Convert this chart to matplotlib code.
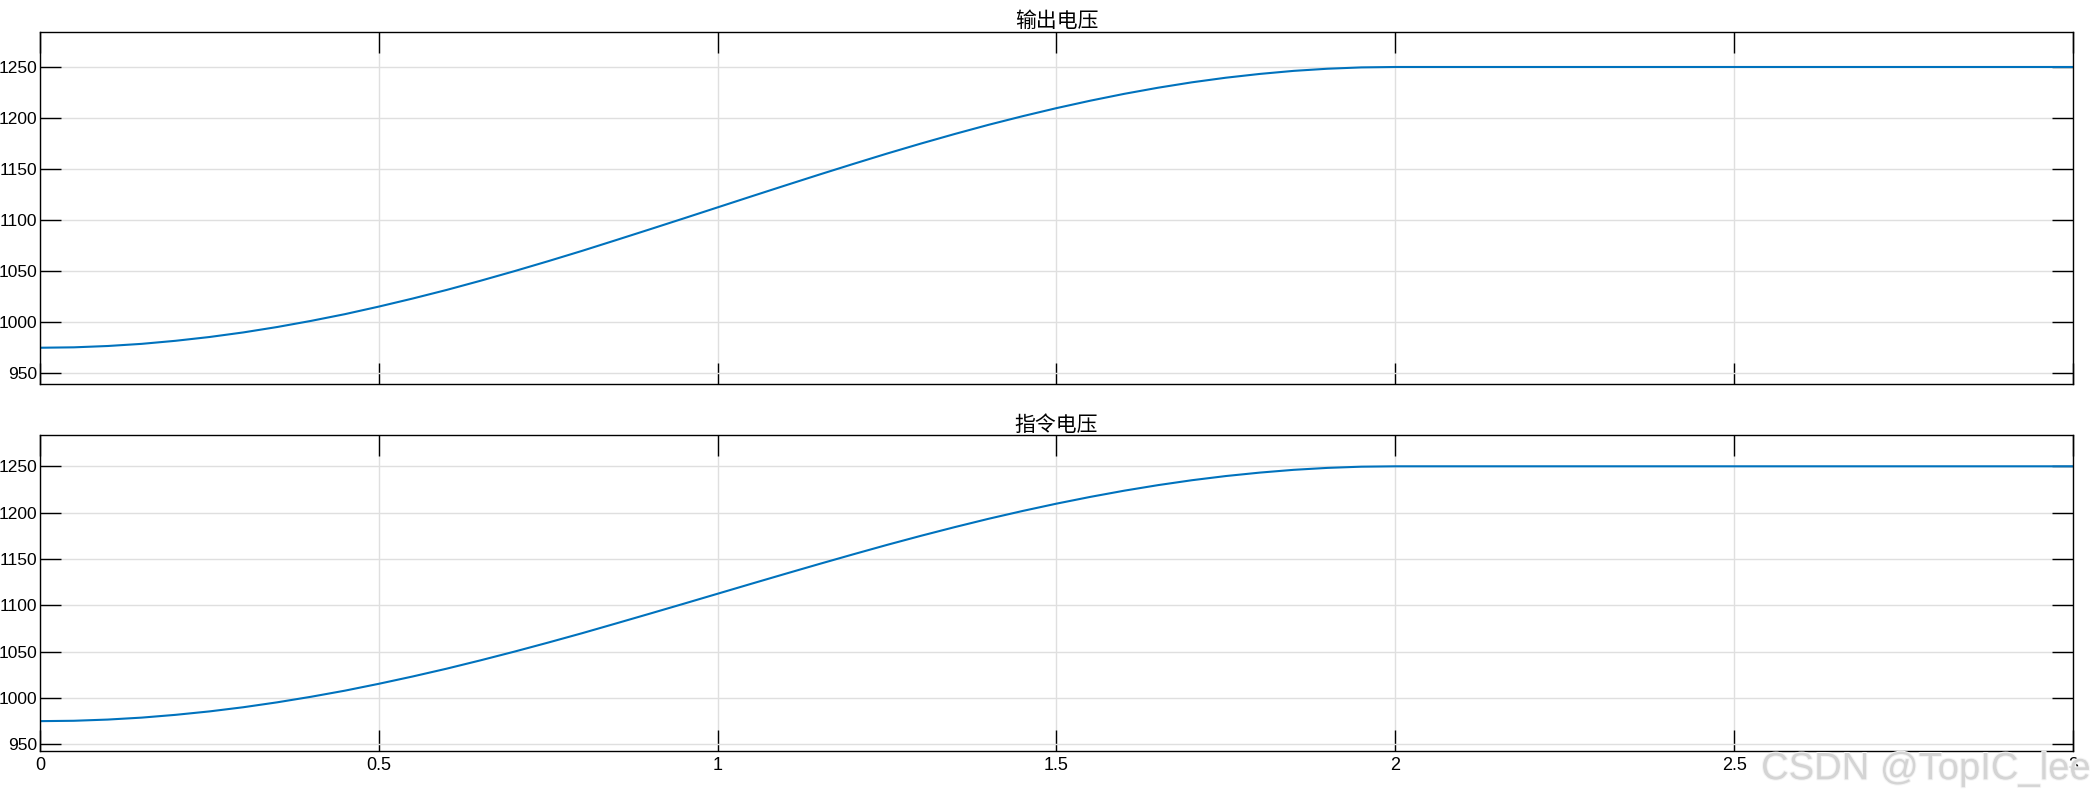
import matplotlib
matplotlib.use('Agg')
import matplotlib.pyplot as plt
import matplotlib.patheffects as pe

# 시간(s)과 전압 값
t = [0, 0.05, 0.1, 0.15, 0.2, 0.25, 0.3, 0.35, 0.4, 0.45, 0.5,
     0.55, 0.6, 0.65, 0.7, 0.75, 0.8, 0.85, 0.9, 0.95, 1.0,
     1.05, 1.1, 1.15, 1.2, 1.25, 1.3, 1.35, 1.4, 1.45, 1.5,
     1.55, 1.6, 1.65, 1.7, 1.75, 1.8, 1.85, 1.9, 1.95, 2.0, 3.0]
v_out = [975.0, 975.4, 976.7, 978.8, 981.8, 985.5, 990.0, 995.3, 1001.3, 1007.9, 1015.3,
         1023.2, 1031.6, 1040.6, 1050.0, 1059.8, 1069.9, 1080.4, 1091.0, 1101.7, 1112.5,
         1123.3, 1134.0, 1144.6, 1155.0, 1165.2, 1175.0, 1184.4, 1193.4, 1201.8, 1209.7,
         1217.0, 1223.7, 1229.7, 1235.0, 1239.5, 1243.2, 1246.2, 1248.3, 1249.6, 1250, 1250]
v_cmd = [975.0, 975.4, 976.7, 978.8, 981.8, 985.5, 990.0, 995.3, 1001.3, 1007.9, 1015.3,
         1023.2, 1031.6, 1040.6, 1050.0, 1059.8, 1069.9, 1080.4, 1091.0, 1101.7, 1112.5,
         1123.3, 1134.0, 1144.6, 1155.0, 1165.2, 1175.0, 1184.4, 1193.4, 1201.8, 1209.7,
         1217.0, 1223.7, 1229.7, 1235.0, 1239.5, 1243.2, 1246.2, 1248.3, 1249.6, 1250, 1250]
titles = ['输出电压', '指令电压']
x_ticks = [0, 0.5, 1, 1.5, 2, 2.5, 3]
x_labels = ['0', '0.5', '1', '1.5', '2', '2.5', '3']
y_ticks = [950, 1000, 1050, 1100, 1150, 1200, 1250]

plt.rcParams['font.family'] = ['Liberation Sans', 'DejaVu Sans']

fig = plt.figure(figsize=(20.92, 8.05), dpi=100)
ax1 = fig.add_axes([0.0191, 0.5230, 0.9718, 0.4369])
ax2 = fig.add_axes([0.0191, 0.0671, 0.9718, 0.3922])

for ax, v, title, ylim in [(ax1, v_out, titles[0], (939.5, 1284)),
                           (ax2, v_cmd, titles[1], (942.8, 1283.5))]:
    ax.plot(t, v, color='#0072BD', lw=1.5)
    ax.set_xlim(0, 3)
    ax.set_ylim(*ylim)
    ax.set_xticks(x_ticks)
    ax.set_yticks(y_ticks)
    ax.set_yticklabels([str(y) for y in y_ticks])
    ax.grid(True, color='#dfdfdf', lw=1.0)
    ax.set_axisbelow(True)
    ax.tick_params(direction='in', length=15, width=1.0, top=True, right=True,
                   colors='black')
    ax.tick_params(axis='y', labelsize=12.5, pad=2)
    ax.tick_params(axis='x', labelsize=13, pad=4)
    for s in ax.spines.values():
        s.set_linewidth(1.0)
    ax.set_title(title, family=['Noto Sans CJK SC', 'DejaVu Sans'], fontsize=15, pad=3)

ax1.set_xticklabels([])
ax2.set_xticklabels(x_labels)

fig.text(0.9995, 0.022, 'CSDN @TopIC_lee', ha='right', va='bottom', fontsize=27.5,
         color='#d4d4d4', family='Liberation Sans',
         path_effects=[pe.withStroke(linewidth=1.5, foreground='#f4f4f4')])

plt.savefig('out.png', dpi=100)
